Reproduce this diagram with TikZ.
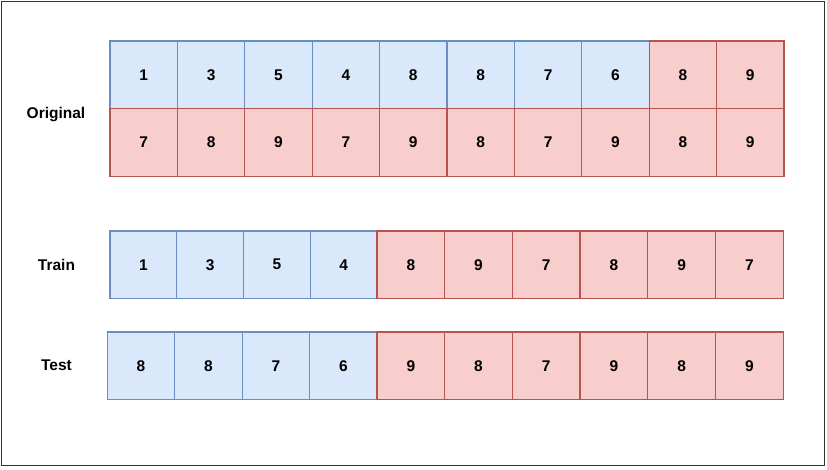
\documentclass[tikz,border=0pt]{standalone}
\usepackage{fontspec}
\setmainfont{Liberation Sans}
\usepackage{xcolor}
\usepackage{tikz}

\definecolor{bluefill}{HTML}{DAE8FC}
\definecolor{bluedraw}{HTML}{6C8EBF}
\definecolor{redfill}{HTML}{F8CECC}
\definecolor{reddraw}{HTML}{B85450}
\definecolor{framedraw}{HTML}{333333}

\tikzset{
  cell/.style={anchor=north west, inner sep=0pt, outer sep=0pt, line width=1.3pt,
    minimum height=67.6pt, font=\fontsize{15.5}{18}\selectfont\bfseries},
  bluecell/.style={cell, draw=bluedraw, fill=bluefill},
  redcell/.style={cell, draw=reddraw, fill=redfill},
  rowlabel/.style={draw=none, font=\fontsize{15.5}{18}\selectfont\bfseries}
}

\begin{document}
\begin{tikzpicture}[x=1pt, y=-1pt]
            \useasboundingbox (0,0) rectangle (827,469);
            \draw[framedraw, line width=1.5pt] (1.5,1.5) rectangle (824.5,465.5);

            \node[rowlabel] (original) at (56, 115) {Original};
            \node[rowlabel] (train) at (56.5, 264.5) {Train};
            \node[rowlabel] (test) at (56.5, 365) {Test};

            % original, upper row
            \foreach \v [count=\i from 0] in {1,3,5,4,8,8,7,6}
              \node[bluecell, minimum width=67.4pt] (orig-a\i) at ({110+67.4*\i}, 41) {\v};
            \foreach \v [count=\i from 8] in {8,9}
              \node[redcell, minimum width=67.4pt] (orig-a\i) at ({110+67.4*\i}, 41) {\v};

            % original, lower row
            \foreach \v [count=\i from 0] in {7,8,9,7,9,8,7,9,8,9}
              \node[redcell, minimum width=67.4pt] (orig-b\i) at ({110+67.4*\i}, 108.7) {\v};

            % train
            \foreach \v [count=\i from 0] in {1,3,5,4}
              \node[bluecell, minimum width=66.75pt, minimum height=67.4pt] (train\i) at ({110+66.75*\i}, 231) {\v};
            \foreach \v [count=\i from 0] in {8,9,7,8,9,7}
              \node[redcell, minimum width=67.7pt, minimum height=67.4pt] (train-r\i) at ({377+67.7*\i}, 231) {\v};

            % test
            \foreach \v [count=\i from 0] in {8,8,7,6}
              \node[bluecell, minimum width=67.5pt, minimum height=67.4pt] (test\i) at ({107.3+67.5*\i}, 332) {\v};
            \foreach \v [count=\i from 0] in {9,8,7,9,8,9}
              \node[redcell, minimum width=67.7pt, minimum height=67.4pt] (test-r\i) at ({377+67.7*\i}, 332) {\v};

\end{tikzpicture}
\end{document}
